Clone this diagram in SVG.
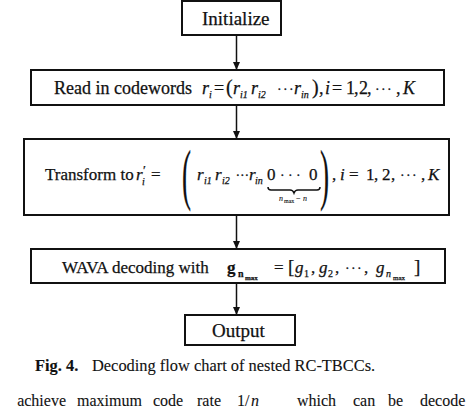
<svg xmlns="http://www.w3.org/2000/svg" width="474" height="411" viewBox="0 0 474 411">
<style>
.box{fill:#fff;stroke:#111;stroke-width:2}
.ln{stroke:#111;stroke-width:1.5;fill:none}
text{font-family:"Liberation Serif","Times New Roman",serif;fill:#111;stroke:#111;stroke-width:0.25}
.it{font-style:italic}
.b{font-weight:bold}
.dots{font-size:14px}
</style>
<defs>
<marker id="ah" viewBox="0 0 8 8" refX="8" refY="4" markerWidth="8" markerHeight="8" markerUnits="userSpaceOnUse" orient="auto">
<path d="M0,0.5 L8,4 L0,7.5 Z" fill="#111"/>
</marker>
</defs>
<rect width="474" height="411" fill="#fff"/>
<g id="connectors">
<line class="ln" x1="236.5" y1="35" x2="236.5" y2="70" marker-end="url(#ah)"/>
<line class="ln" x1="236.5" y1="105" x2="236.5" y2="139" marker-end="url(#ah)"/>
<line class="ln" x1="236.5" y1="215" x2="236.5" y2="249" marker-end="url(#ah)"/>
<line class="ln" x1="236.5" y1="283" x2="236.5" y2="315" marker-end="url(#ah)"/>
</g>
<g id="initialize">
<rect class="box" x="182" y="1" width="99" height="34"/>
<text x="202" y="25" font-size="19">Initialize</text>
</g>
<g id="read">
<rect class="box" x="31" y="70" width="413" height="35"/>
<text y="94" font-size="18"><tspan x="54">Read in codewords</tspan><tspan class="it" x="202">r</tspan><tspan class="it" x="209" y="98" font-size="10">i</tspan><tspan x="214" y="94">=</tspan><tspan x="226" font-size="20">(</tspan><tspan class="it" x="233">r</tspan><tspan class="it" x="240" y="98" font-size="10">i1</tspan><tspan class="it" x="251" y="94">r</tspan><tspan class="it" x="258" y="98" font-size="10">i2</tspan><tspan class="dots" x="277 283 289" y="94">···</tspan><tspan class="it" x="294">r</tspan><tspan class="it" x="301" y="98" font-size="10">in</tspan><tspan x="312" y="94" font-size="20">)</tspan><tspan x="319">,</tspan><tspan class="it" x="325">i</tspan><tspan x="332">=</tspan><tspan x="346">1</tspan><tspan x="354">,</tspan><tspan x="359">2</tspan><tspan x="367">,</tspan><tspan class="dots" x="375 381 387">···</tspan><tspan x="396">,</tspan><tspan class="it" x="403">K</tspan></text>
</g>
<g id="transform">
<rect class="box" x="24" y="139" width="425" height="76"/>
<text y="180" font-size="17"><tspan x="45">Transform to</tspan><tspan class="it" x="136">r</tspan><tspan x="143" y="174" font-size="13">′</tspan><tspan class="it" x="142" y="185" font-size="10">i</tspan><tspan x="151" y="180">=</tspan><tspan class="it" x="197">r</tspan><tspan class="it" x="204" y="184" font-size="10">i1</tspan><tspan class="it" x="215" y="180">r</tspan><tspan class="it" x="222" y="184" font-size="10">i2</tspan><tspan class="dots" x="235.5 240 244.5" y="180">···</tspan><tspan class="it" x="249">r</tspan><tspan class="it" x="255" y="184" font-size="10">in</tspan><tspan x="267" y="180">0</tspan><tspan class="dots" x="280 288 296">···</tspan><tspan x="309">0</tspan><tspan x="332">,</tspan><tspan class="it" x="340">i</tspan><tspan x="349">=</tspan><tspan x="366">1</tspan><tspan x="374">,</tspan><tspan x="382">2</tspan><tspan x="391">,</tspan><tspan class="dots" x="400 406 412">···</tspan><tspan x="421">,</tspan><tspan class="it" x="428">K</tspan></text>
<text transform="translate(182,197) scale(0.4,1)" font-size="68">(</text>
<text transform="translate(320,197) scale(0.4,1)" font-size="68">)</text>
<path class="ln" stroke-width="1" d="M268,187 q0,3 3,3 h19 q3,0 4,3 q1,-3 4,-3 h19 q3,0 3,-3"/>
<text y="201" font-size="8" style="stroke-width:0.1"><tspan class="it" x="279">n</tspan><tspan x="284" y="203" font-size="6">max</tspan><tspan x="296" y="201">−</tspan><tspan class="it" x="303">n</tspan></text>
</g>
<g id="wava">
<rect class="box" x="31" y="249" width="414" height="34"/>
<text y="273" font-size="17"><tspan x="62">WAVA decoding with</tspan><tspan class="b" x="227">g</tspan><tspan class="b" x="238" y="277" font-size="10">n</tspan><tspan class="b" x="245" y="280" font-size="7">max</tspan><tspan x="274" y="273">=</tspan><tspan x="288" font-size="19">[</tspan><tspan class="it" x="295">g</tspan><tspan x="304" y="277" font-size="10">1</tspan><tspan x="311" y="273">,</tspan><tspan class="it" x="319">g</tspan><tspan x="328" y="277" font-size="10">2</tspan><tspan x="335" y="273">,</tspan><tspan class="dots" x="345 351 357">···</tspan><tspan x="364">,</tspan><tspan class="it" x="376">g</tspan><tspan class="it" x="386" y="277" font-size="10">n</tspan><tspan x="393" y="280" font-size="7">max</tspan><tspan x="414" y="273" font-size="19">]</tspan></text>
</g>
<g id="output">
<rect class="box" x="185" y="315" width="110" height="30"/>
<text x="212" y="337" font-size="19">Output</text>
</g>
<text y="371" font-size="16.4" style="stroke-width:0.1"><tspan class="b" x="35">Fig. 4.</tspan><tspan x="92">Decoding flow chart of nested RC-TBCCs.</tspan></text>
<text y="406" font-size="16" style="stroke-width:0.1"><tspan x="66" text-anchor="end">achieve</tspan><tspan x="77" text-anchor="start">maximum</tspan><tspan x="153">code</tspan><tspan x="197">rate</tspan><tspan x="237">1/</tspan><tspan class="it" x="251">n</tspan><tspan x="297">which</tspan><tspan x="353">can</tspan><tspan x="388">be</tspan><tspan x="420">decode</tspan></text>
</svg>
